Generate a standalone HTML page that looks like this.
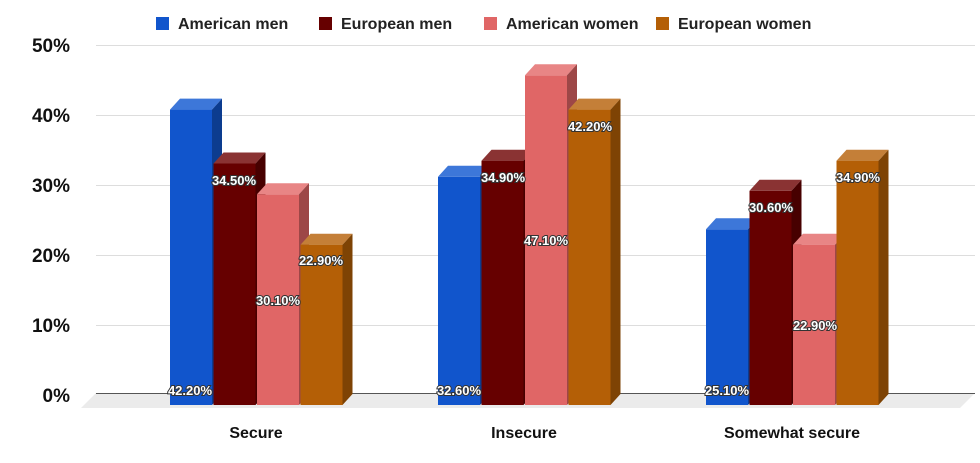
<!DOCTYPE html><html><head><style>body{margin:0;background:#fff}</style></head><body>
<svg width="980" height="458" xmlns="http://www.w3.org/2000/svg" font-family="Liberation Sans, sans-serif">
<g stroke="#ddd" stroke-width="1">
<line x1="96" y1="45.5" x2="975" y2="45.5"/><line x1="96" y1="115.5" x2="975" y2="115.5"/><line x1="96" y1="185.5" x2="975" y2="185.5"/><line x1="96" y1="255.5" x2="975" y2="255.5"/><line x1="96" y1="325.5" x2="975" y2="325.5"/></g>
<polygon points="96,393 975,393 960,408 81,408" fill="#ebebeb"/>
<line x1="96" y1="393.5" x2="975" y2="393.5" stroke="#555"/>
<g font-size="19" font-weight="bold" fill="#111" text-anchor="end">
<text x="70" y="52">50%</text><text x="70" y="122">40%</text><text x="70" y="192">30%</text><text x="70" y="262">20%</text><text x="70" y="332">10%</text><text x="70" y="402">0%</text></g>

<!-- Secure -->
<g transform="translate(170,109.6)"><polygon points="0,0 10,-11 52,-11 42,0" fill="#3d77d9"/><polygon points="42,0 52,-11 52,284.4 42,295.4" fill="#0c3c8f"/><rect width="42" height="295.4" fill="#1155cc"/></g>
<g transform="translate(213.5,163.5)"><polygon points="0,0 10,-11 52,-11 42,0" fill="#8a3333"/><polygon points="42,0 52,-11 52,230.5 42,241.5" fill="#470000"/><rect width="42" height="241.5" fill="#660000"/></g>
<g transform="translate(257,194.3)"><polygon points="0,0 10,-11 52,-11 42,0" fill="#e88585"/><polygon points="42,0 52,-11 52,199.7 42,210.7" fill="#9d4747"/><rect width="42" height="210.7" fill="#e06666"/></g>
<g transform="translate(300.5,244.7)"><polygon points="0,0 10,-11 52,-11 42,0" fill="#c47f38"/><polygon points="42,0 52,-11 52,149.3 42,160.3" fill="#7e4304"/><rect width="42" height="160.3" fill="#b45f06"/></g>
<!-- Insecure -->
<g transform="translate(438,176.8)"><polygon points="0,0 10,-11 52,-11 42,0" fill="#3d77d9"/><polygon points="42,0 52,-11 52,217.2 42,228.2" fill="#0c3c8f"/><rect width="42" height="228.2" fill="#1155cc"/></g>
<g transform="translate(481.5,160.7)"><polygon points="0,0 10,-11 52,-11 42,0" fill="#8a3333"/><polygon points="42,0 52,-11 52,233.3 42,244.3" fill="#470000"/><rect width="42" height="244.3" fill="#660000"/></g>
<g transform="translate(525,75.3)"><polygon points="0,0 10,-11 52,-11 42,0" fill="#e88585"/><polygon points="42,0 52,-11 52,318.7 42,329.7" fill="#9d4747"/><rect width="42" height="329.7" fill="#e06666"/></g>
<g transform="translate(568.5,109.6)"><polygon points="0,0 10,-11 52,-11 42,0" fill="#c47f38"/><polygon points="42,0 52,-11 52,284.4 42,295.4" fill="#7e4304"/><rect width="42" height="295.4" fill="#b45f06"/></g>
<!-- Somewhat secure -->
<g transform="translate(706,229.3)"><polygon points="0,0 10,-11 52,-11 42,0" fill="#3d77d9"/><polygon points="42,0 52,-11 52,164.7 42,175.7" fill="#0c3c8f"/><rect width="42" height="175.7" fill="#1155cc"/></g>
<g transform="translate(749.5,190.8)"><polygon points="0,0 10,-11 52,-11 42,0" fill="#8a3333"/><polygon points="42,0 52,-11 52,203.2 42,214.2" fill="#470000"/><rect width="42" height="214.2" fill="#660000"/></g>
<g transform="translate(793,244.7)"><polygon points="0,0 10,-11 52,-11 42,0" fill="#e88585"/><polygon points="42,0 52,-11 52,149.3 42,160.3" fill="#9d4747"/><rect width="42" height="160.3" fill="#e06666"/></g>
<g transform="translate(836.5,160.7)"><polygon points="0,0 10,-11 52,-11 42,0" fill="#c47f38"/><polygon points="42,0 52,-11 52,233.3 42,244.3" fill="#7e4304"/><rect width="42" height="244.3" fill="#b45f06"/></g>

<g font-size="16" font-weight="bold" fill="#111" text-anchor="middle">
<text x="256" y="438">Secure</text><text x="524" y="438">Insecure</text><text x="792" y="438">Somewhat secure</text></g>
<g font-size="16" font-weight="bold" fill="#222">
<rect x="156" y="17" width="13" height="13" fill="#1155cc"/><text x="178" y="29">American men</text>
<rect x="319" y="17" width="13" height="13" fill="#660000"/><text x="341" y="29">European men</text>
<rect x="484" y="17" width="13" height="13" fill="#e06666"/><text x="506" y="29">American women</text>
<rect x="656" y="17" width="13" height="13" fill="#b45f06"/><text x="678" y="29">European women</text></g>
<g font-size="13" font-weight="bold" fill="#fff" stroke="#333" stroke-width="2" paint-order="stroke" text-anchor="middle">
<text x="190" y="395">42.20%</text><text x="234" y="185">34.50%</text><text x="278" y="305">30.10%</text><text x="321" y="265">22.90%</text>
<text x="459" y="395">32.60%</text><text x="503" y="182">34.90%</text><text x="546" y="245">47.10%</text><text x="590" y="131">42.20%</text>
<text x="727" y="395">25.10%</text><text x="771" y="212">30.60%</text><text x="815" y="330">22.90%</text><text x="858" y="182">34.90%</text></g>
</svg>
</body></html>
